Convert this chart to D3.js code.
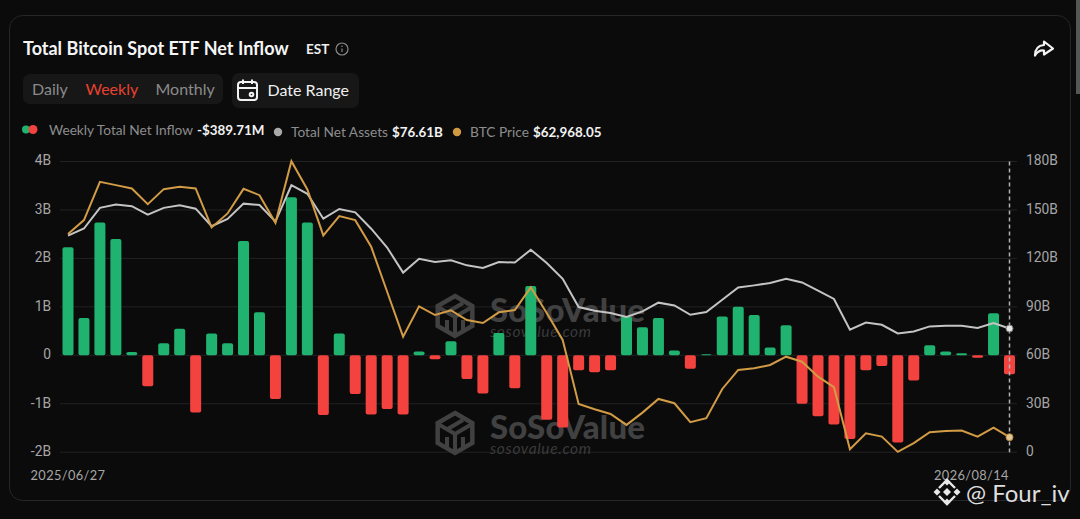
<!DOCTYPE html>
<html>
<head>
<meta charset="utf-8">
<script src="https://cdn.jsdelivr.net/npm/d3@7"></script>
<style>
  html, body { margin: 0; padding: 0; background: #0b0b0c; overflow: hidden; }
  svg { display: block; }
  text { font-family: Lato, sans-serif; }
  .axis text { font-family: Roboto, sans-serif; font-size: 13.8px; fill: #a6a6a6; }
  .axis .domain { display: none; }
  .axis line { display: none; }
</style>
</head>
<body>
<div id="chart"></div>
<script>
const firstDate = new Date(Date.UTC(2025, 5, 27))
const lastDate = new Date(Date.UTC(2026, 7, 14))
const weeks = d3.utcDay.range(firstDate, d3.utcDay.offset(lastDate, 1), 7)

// weekly total net inflow, in billions
const netInflow = [
  2.23, 0.77, 2.74, 2.40, 0.07, -0.64, 0.25, 0.55, -1.18, 0.45,
  0.25, 2.36, 0.89, -0.90, 3.26, 2.74, -1.23, 0.45, -0.80, -1.22,
  -1.11, -1.22, 0.08, -0.08, 0.29, -0.49, -0.79, 0.46, -0.68, 1.43,
  -1.33, -1.49, -0.31, -0.35, -0.31, 0.80, 0.58, 0.77, 0.10, -0.28,
  0.02, 0.80, 1.00, 0.83, 0.16, 0.62, -1.00, -1.26, -1.43, -1.73,
  -0.31, -0.22, -1.80, -0.52, 0.21, 0.08, 0.04, -0.05, 0.87, -0.39
]

// total net assets, in billions
const netAssets = [
  134.1, 138.5, 151.3, 153.3, 152.3, 147.1, 151.3, 152.9, 150.8, 139.9,
  144.4, 153.9, 153.1, 142.8, 165.3, 160.0, 144.6, 150.6, 148.5, 138.4,
  126.7, 111.2, 119.8, 117.8, 118.8, 115.7, 114.1, 117.8, 117.4, 125.4,
  117.2, 107.4, 89.9, 87.6, 86.2, 83.7, 87.2, 92.6, 90.9, 85.1,
  86.8, 94.4, 102.0, 103.3, 104.8, 107.4, 105.1, 100.0, 94.9, 75.8,
  80.3, 78.9, 73.5, 74.8, 77.9, 78.3, 78.3, 76.9, 80.0, 76.61
]

const btcPrice = [
  109400, 112600, 121350, 120600, 119840, 116250, 119680, 120200, 119840, 110930,
  114130, 119750, 118300, 111980, 126075, 119610, 109100, 113510, 112600, 106500,
  96220, 85950, 92890, 90900, 91975, 89760, 89075, 91520, 92040, 97230,
  91360, 85190, 70570, 69360, 68290, 65780, 68590, 71720, 70730, 66390,
  67310, 74000, 78340, 78730, 79480, 81380, 80235, 76810, 74390, 60230,
  63880, 63100, 59610, 61600, 64110, 64410, 64475, 63100, 65160, 62968.05
]

const leftTicks = [-2, -1, 0, 1, 2, 3, 4]
const rightTicks = [0, 30, 60, 90, 120, 150, 180]
const tabs = ['Daily', 'Weekly', 'Monthly']

const width = 1080
const height = 519
const plotTop = 161.5
const plotBottom = 452.2

const svg = d3.select('#chart').append('svg').attr('width', width).attr('height', height)

const x = d3.scalePoint().domain(weeks).range([68, 1009.5])
const yLeft = d3.scaleLinear().domain([-2, 4]).range([plotBottom, plotTop])
const yRight = d3.scaleLinear().domain([0, 180]).range([plotBottom, plotTop])
const yBtc = d3.scaleLinear().domain([59540, 126000]).range([plotBottom, plotTop])

// card and scrollbar
svg.append('rect').attr('x', 9.5).attr('y', 15.5).attr('width', 1061).attr('height', 485)
  .attr('rx', 13).attr('fill', '#0b0b0c').attr('stroke', '#272729')
svg.append('rect').attr('x', 1076).attr('y', 0).attr('width', 4).attr('height', 94).attr('fill', '#565656')

// header
svg.append('text').attr('x', 23).attr('y', 54.5).attr('fill', '#f5f5f5')
  .attr('font-size', 18).attr('font-weight', 700).text('Total Bitcoin Spot ETF Net Inflow')
svg.append('text').attr('x', 306).attr('y', 53.5).attr('fill', '#eeeeee')
  .attr('font-size', 13.5).attr('font-weight', 700).text('EST')
const info = svg.append('g').attr('transform', 'translate(342,49)')
info.append('circle').attr('r', 6).attr('fill', 'none').attr('stroke', '#8a8a8a').attr('stroke-width', 1.2)
info.append('line').attr('y1', -0.5).attr('y2', 3).attr('stroke', '#8a8a8a').attr('stroke-width', 1.2)
info.append('circle').attr('cy', -2.7).attr('r', 0.8).attr('fill', '#8a8a8a')

svg.append('path')
  .attr('d', 'M1044 41.5 L1053 48.5 L1044 54.5 L1044 50.5 C1040 50 1037 52 1035 55.5 C1035 49.5 1038 45.5 1044 45 Z')
  .attr('fill', 'none').attr('stroke', '#f2f2f2').attr('stroke-width', 2.2).attr('stroke-linejoin', 'round')

// period tabs
svg.append('rect').attr('x', 23).attr('y', 74).attr('width', 200).attr('height', 30).attr('rx', 7).attr('fill', '#171718')
svg.selectAll('.tab').data(tabs).join('text').attr('class', 'tab')
  .attr('x', (d, i) => [32, 85.5, 155.5][i]).attr('y', 95)
  .attr('font-size', 16)
  .attr('fill', d => d === 'Weekly' ? '#e8412f' : '#8b8b8b')
  .text(d => d)

svg.append('rect').attr('x', 232).attr('y', 73).attr('width', 127).attr('height', 35).attr('rx', 7).attr('fill', '#171718')
const cal = svg.append('g').attr('fill', 'none').attr('stroke', '#f2f2f2').attr('stroke-width', 2)
cal.append('rect').attr('x', 238).attr('y', 82).attr('width', 19).attr('height', 18).attr('rx', 3)
cal.append('path').attr('d', 'M238 88 H257 M243 79.5 V84 M252 79.5 V84')
cal.append('circle').attr('cx', 251.5).attr('cy', 94.5).attr('r', 1.8)
svg.append('text').attr('x', 267.5).attr('y', 95.5).attr('fill', '#f0f0f0').attr('font-size', 16).text('Date Range')

// legend
svg.append('circle').attr('cx', 26).attr('cy', 129.5).attr('r', 4).attr('fill', '#1fb36f')
svg.append('circle').attr('cx', 33).attr('cy', 129.5).attr('r', 4.5).attr('fill', '#f4433f')
const legend = [
  { label: 'Weekly Total Net Inflow', x: 49, value: '-$389.71M', vx: 197, y: 134.5 },
  { label: 'Total Net Assets', x: 291, value: '$76.61B', vx: 392, y: 136.5, dot: '#a9a9a9', dx: 278 },
  { label: 'BTC Price', x: 470, value: '$62,968.05', vx: 533, y: 136.5, dot: '#cf9a41', dx: 457 }
]
legend.forEach(d => {
  if (d.dot) svg.append('circle').attr('cx', d.dx).attr('cy', d.y - 4.5).attr('r', 4.2).attr('fill', d.dot)
  svg.append('text').attr('x', d.x).attr('y', d.y).attr('fill', '#8d8d8d').attr('font-size', 13.7).text(d.label)
  svg.append('text').attr('x', d.vx).attr('y', d.y).attr('fill', '#f2f2f2').attr('font-size', 13.4).attr('font-weight', 700).text(d.value)
})

// grid
svg.selectAll('.grid').data(leftTicks).join('line').attr('class', 'grid')
  .attr('x1', 60).attr('x2', 1017)
  .attr('y1', d => yLeft(d)).attr('y2', d => yLeft(d))
  .attr('stroke', '#222224')

// watermark
function watermark(cx, cy) {
  const g = svg.append('g').attr('transform', `translate(${cx},${cy})`)
  const hex = d3.range(6).map(i => {
    const a = Math.PI / 3 * i - Math.PI / 2
    return [20 * Math.cos(a), 20 * Math.sin(a)]
  })
  g.append('path').attr('d', d3.line().curve(d3.curveLinearClosed)(hex))
    .attr('fill', 'none').attr('stroke', '#414141').attr('stroke-width', 4.5)
  g.append('path').attr('d', 'M-17 -9 L0 1 L17 -9 M0 1 V19 M-9 -3 L8 -13 M-8 4 V14 M8 4 V14')
    .attr('fill', 'none').attr('stroke', '#414141').attr('stroke-width', 4)
  g.append('text').attr('x', 35).attr('y', 6).attr('fill', '#414141')
    .attr('font-size', 33).attr('font-weight', 900).attr('textLength', 155).text('SoSoValue')
  g.append('text').attr('x', 35).attr('y', 21).attr('fill', '#3a3a3a')
    .attr('font-size', 15.5).attr('font-style', 'italic').attr('textLength', 101).text('sosovalue.com')
}
watermark(455, 316)
watermark(455, 433)

// bars
const barWidth = 11
svg.selectAll('.bar').data(netInflow).join('rect').attr('class', 'bar')
  .attr('x', (d, i) => x(weeks[i]) - barWidth / 2)
  .attr('width', barWidth)
  .attr('y', d => Math.min(yLeft(d), yLeft(0)))
  .attr('height', d => Math.abs(yLeft(d) - yLeft(0)))
  .attr('rx', 2)
  .attr('fill', d => d >= 0 ? '#1fb36f' : '#f4433f')

// hover guide on the last week
const lastX = x(weeks[59])
svg.append('line').attr('x1', lastX).attr('x2', lastX).attr('y1', plotTop).attr('y2', plotBottom)
  .attr('stroke', '#b0b0b0').attr('stroke-width', 1.5).attr('stroke-dasharray', '4 3')

// lines
const assetsLine = d3.line().x((d, i) => x(weeks[i])).y(d => yRight(d))
const btcLine = d3.line().x((d, i) => x(weeks[i])).y(d => yBtc(d))
svg.append('path').attr('d', assetsLine(netAssets)).attr('fill', 'none').attr('stroke', '#c4c4c4').attr('stroke-width', 2)
svg.append('path').attr('d', btcLine(btcPrice)).attr('fill', 'none').attr('stroke', '#d29b45').attr('stroke-width', 2)

svg.append('circle').attr('cx', lastX).attr('cy', yRight(netAssets[59])).attr('r', 3.5)
  .attr('fill', '#e6e6e6').attr('stroke', '#777').attr('stroke-width', 1)
svg.append('circle').attr('cx', lastX).attr('cy', yBtc(btcPrice[59])).attr('r', 3.5)
  .attr('fill', '#e0c68f').attr('stroke', '#b8873a').attr('stroke-width', 1)

// axes
const fmtLeft = d => d === 0 ? '0' : d + 'B'
svg.append('g').attr('class', 'axis').attr('transform', 'translate(53,-1)')
  .call(d3.axisLeft(yLeft).tickValues(leftTicks).tickFormat(fmtLeft).tickSize(0).tickPadding(2))
svg.append('g').attr('class', 'axis').attr('transform', 'translate(1026,-1)')
  .call(d3.axisRight(yRight).tickValues(rightTicks).tickFormat(d => d === 0 ? '0' : d + 'B').tickSize(0).tickPadding(0))

const fmtDate = d3.utcFormat('%Y/%m/%d')
svg.append('text').attr('x', 30.5).attr('y', 480).attr('fill', '#a6a6a6')
  .attr('font-family', 'Roboto, sans-serif').attr('font-size', 12.8).attr('letter-spacing', 0.4).text(fmtDate(firstDate))
svg.append('text').attr('x', 934).attr('y', 480).attr('fill', '#a6a6a6')
  .attr('font-family', 'Roboto, sans-serif').attr('font-size', 12.8).attr('letter-spacing', 0.4).text(fmtDate(lastDate))

// reposter mark
const mark = svg.append('g').attr('transform', 'translate(947,492)').attr('fill', '#e8e8e8')
const diamond = (cx, cy, r) => `M${cx} ${cy - r} L${cx + r} ${cy} L${cx} ${cy + r} L${cx - r} ${cy} Z`
mark.append('path').attr('d', diamond(0, -10, 3.5) + diamond(0, 10, 3.5) + diamond(-10, 0, 3.5) + diamond(10, 0, 3.5))
mark.append('path').attr('d', diamond(0, 0, 4))
mark.append('path').attr('d', 'M-8 -4 L0 -12 L8 -4 M-8 4 L0 12 L8 4').attr('fill', 'none').attr('stroke', '#e8e8e8').attr('stroke-width', 2.4)
svg.append('text').attr('x', 966).attr('y', 502).attr('fill', '#dedede')
  .attr('font-family', 'Roboto, sans-serif').attr('font-size', 24).text('@ Four_iv')
</script>
</body>
</html>
